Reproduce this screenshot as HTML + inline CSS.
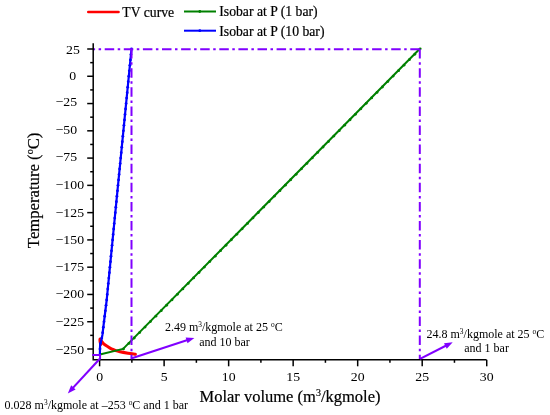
<!DOCTYPE html><html><head><meta charset="utf-8"><style>html,body{margin:0;padding:0;background:#fff;overflow:hidden}svg{display:block}text{font-family:"Liberation Serif","Times New Roman",serif;fill:#000}.b{stroke:#000;stroke-width:0.2px}</style></head><body>
<svg width="550" height="415" viewBox="0 0 550 415">
<path d="M100.7 344.5 C100.58 343.92 100.10 341.93 100.0 341 C99.90 340.07 99.88 338.92 100.1 338.9 C100.32 338.88 100.70 340.07 101.3 340.9 C101.90 341.73 102.65 342.95 103.7 343.9 C104.75 344.85 106.32 345.77 107.6 346.6 C108.88 347.43 110.00 348.23 111.4 348.9 C112.80 349.57 114.57 350.12 116 350.6 C117.43 351.08 118.00 351.37 120 351.8 C122.00 352.23 125.43 352.80 128 353.2 C130.57 353.60 134.17 354.03 135.4 354.2" stroke="#ff0000" stroke-width="3" fill="none" stroke-linecap="round" stroke-linejoin="round"/>
<polyline points="100.9,354.2 123.1,348.9 419.8,48.8" stroke="#008000" stroke-width="2" fill="none" stroke-linejoin="round"/>
<g fill="#008000"><circle cx="123.50" cy="348.90" r="1.4"/><circle cx="128.89" cy="343.44" r="1.4"/><circle cx="134.29" cy="337.99" r="1.4"/><circle cx="139.68" cy="332.53" r="1.4"/><circle cx="145.08" cy="327.07" r="1.4"/><circle cx="150.47" cy="321.62" r="1.4"/><circle cx="155.87" cy="316.16" r="1.4"/><circle cx="161.26" cy="310.71" r="1.4"/><circle cx="166.66" cy="305.25" r="1.4"/><circle cx="172.05" cy="299.79" r="1.4"/><circle cx="177.45" cy="294.34" r="1.4"/><circle cx="182.84" cy="288.88" r="1.4"/><circle cx="188.23" cy="283.42" r="1.4"/><circle cx="193.63" cy="277.97" r="1.4"/><circle cx="199.02" cy="272.51" r="1.4"/><circle cx="204.42" cy="267.05" r="1.4"/><circle cx="209.81" cy="261.60" r="1.4"/><circle cx="215.21" cy="256.14" r="1.4"/><circle cx="220.60" cy="250.69" r="1.4"/><circle cx="226.00" cy="245.23" r="1.4"/><circle cx="231.39" cy="239.77" r="1.4"/><circle cx="236.79" cy="234.32" r="1.4"/><circle cx="242.18" cy="228.86" r="1.4"/><circle cx="247.57" cy="223.40" r="1.4"/><circle cx="252.97" cy="217.95" r="1.4"/><circle cx="258.36" cy="212.49" r="1.4"/><circle cx="263.76" cy="207.03" r="1.4"/><circle cx="269.15" cy="201.58" r="1.4"/><circle cx="274.55" cy="196.12" r="1.4"/><circle cx="279.94" cy="190.67" r="1.4"/><circle cx="285.34" cy="185.21" r="1.4"/><circle cx="290.73" cy="179.75" r="1.4"/><circle cx="296.13" cy="174.30" r="1.4"/><circle cx="301.52" cy="168.84" r="1.4"/><circle cx="306.91" cy="163.38" r="1.4"/><circle cx="312.31" cy="157.93" r="1.4"/><circle cx="317.70" cy="152.47" r="1.4"/><circle cx="323.10" cy="147.01" r="1.4"/><circle cx="328.49" cy="141.56" r="1.4"/><circle cx="333.89" cy="136.10" r="1.4"/><circle cx="339.28" cy="130.65" r="1.4"/><circle cx="344.68" cy="125.19" r="1.4"/><circle cx="350.07" cy="119.73" r="1.4"/><circle cx="355.47" cy="114.28" r="1.4"/><circle cx="360.86" cy="108.82" r="1.4"/><circle cx="366.25" cy="103.36" r="1.4"/><circle cx="371.65" cy="97.91" r="1.4"/><circle cx="377.04" cy="92.45" r="1.4"/><circle cx="382.44" cy="86.99" r="1.4"/><circle cx="387.83" cy="81.54" r="1.4"/><circle cx="393.23" cy="76.08" r="1.4"/><circle cx="398.62" cy="70.63" r="1.4"/><circle cx="404.02" cy="65.17" r="1.4"/><circle cx="409.41" cy="59.71" r="1.4"/><circle cx="414.81" cy="54.26" r="1.4"/><circle cx="420.20" cy="48.80" r="1.4"/></g>
<polyline points="131.5,49 111.6,250 106.7,300 103.6,325 102.4,335 101.4,340 100.1,345 99.95,350 99.9,354.5" stroke="#0000ff" stroke-width="2.2" fill="none" stroke-linejoin="round"/>
<g fill="#0000ff"><circle cx="131.50" cy="49.00" r="1.4"/><circle cx="130.96" cy="54.45" r="1.4"/><circle cx="130.42" cy="59.91" r="1.4"/><circle cx="129.88" cy="65.36" r="1.4"/><circle cx="129.34" cy="70.82" r="1.4"/><circle cx="128.80" cy="76.27" r="1.4"/><circle cx="128.26" cy="81.73" r="1.4"/><circle cx="127.72" cy="87.18" r="1.4"/><circle cx="127.18" cy="92.64" r="1.4"/><circle cx="126.64" cy="98.09" r="1.4"/><circle cx="126.10" cy="103.55" r="1.4"/><circle cx="125.56" cy="109.00" r="1.4"/><circle cx="125.02" cy="114.45" r="1.4"/><circle cx="124.48" cy="119.91" r="1.4"/><circle cx="123.94" cy="125.36" r="1.4"/><circle cx="123.40" cy="130.82" r="1.4"/><circle cx="122.86" cy="136.27" r="1.4"/><circle cx="122.32" cy="141.73" r="1.4"/><circle cx="121.78" cy="147.18" r="1.4"/><circle cx="121.24" cy="152.64" r="1.4"/><circle cx="120.70" cy="158.09" r="1.4"/><circle cx="120.16" cy="163.54" r="1.4"/><circle cx="119.62" cy="169.00" r="1.4"/><circle cx="119.08" cy="174.45" r="1.4"/><circle cx="118.54" cy="179.91" r="1.4"/><circle cx="118.00" cy="185.36" r="1.4"/><circle cx="117.46" cy="190.82" r="1.4"/><circle cx="116.92" cy="196.27" r="1.4"/><circle cx="116.38" cy="201.73" r="1.4"/><circle cx="115.84" cy="207.18" r="1.4"/><circle cx="115.30" cy="212.63" r="1.4"/><circle cx="114.76" cy="218.09" r="1.4"/><circle cx="114.22" cy="223.54" r="1.4"/><circle cx="113.68" cy="229.00" r="1.4"/><circle cx="113.14" cy="234.45" r="1.4"/><circle cx="112.60" cy="239.91" r="1.4"/><circle cx="112.06" cy="245.36" r="1.4"/><circle cx="111.52" cy="250.82" r="1.4"/><circle cx="110.99" cy="256.27" r="1.4"/><circle cx="110.45" cy="261.73" r="1.4"/><circle cx="109.92" cy="267.18" r="1.4"/><circle cx="109.38" cy="272.63" r="1.4"/><circle cx="108.85" cy="278.09" r="1.4"/><circle cx="108.31" cy="283.54" r="1.4"/><circle cx="107.78" cy="289.00" r="1.4"/><circle cx="107.24" cy="294.45" r="1.4"/><circle cx="106.71" cy="299.91" r="1.4"/><circle cx="106.04" cy="305.36" r="1.4"/><circle cx="105.36" cy="310.82" r="1.4"/><circle cx="104.68" cy="316.27" r="1.4"/><circle cx="104.01" cy="321.73" r="1.4"/><circle cx="103.34" cy="327.18" r="1.4"/><circle cx="102.68" cy="332.63" r="1.4"/><circle cx="101.78" cy="338.09" r="1.4"/><circle cx="100.48" cy="343.54" r="1.4"/><circle cx="99.98" cy="349.00" r="1.4"/></g>
<g stroke="#8000ff" stroke-width="2" fill="none" stroke-dasharray="9.5 3.6 2.5 3.5">
<line x1="419.8" y1="49.3" x2="93.2" y2="49.3"/>
<line x1="419.8" y1="49.1" x2="419.8" y2="359.8"/>
<line x1="131.5" y1="49.1" x2="131.5" y2="359.8"/>
</g>
<g stroke="#000" stroke-width="1.5" fill="none">
<path d="M93.2 43.2 V359.8 H486.6"/>
<line x1="87.2" y1="49.00" x2="93.2" y2="49.00"/>
<line x1="87.2" y1="76.27" x2="93.2" y2="76.27"/>
<line x1="87.2" y1="103.55" x2="93.2" y2="103.55"/>
<line x1="87.2" y1="130.82" x2="93.2" y2="130.82"/>
<line x1="87.2" y1="158.09" x2="93.2" y2="158.09"/>
<line x1="87.2" y1="185.36" x2="93.2" y2="185.36"/>
<line x1="87.2" y1="212.63" x2="93.2" y2="212.63"/>
<line x1="87.2" y1="239.91" x2="93.2" y2="239.91"/>
<line x1="87.2" y1="267.18" x2="93.2" y2="267.18"/>
<line x1="87.2" y1="294.45" x2="93.2" y2="294.45"/>
<line x1="87.2" y1="321.73" x2="93.2" y2="321.73"/>
<line x1="87.2" y1="349.00" x2="93.2" y2="349.00"/>
<line x1="90.2" y1="62.64" x2="93.2" y2="62.64"/>
<line x1="90.2" y1="89.91" x2="93.2" y2="89.91"/>
<line x1="90.2" y1="117.18" x2="93.2" y2="117.18"/>
<line x1="90.2" y1="144.45" x2="93.2" y2="144.45"/>
<line x1="90.2" y1="171.73" x2="93.2" y2="171.73"/>
<line x1="90.2" y1="199.00" x2="93.2" y2="199.00"/>
<line x1="90.2" y1="226.27" x2="93.2" y2="226.27"/>
<line x1="90.2" y1="253.54" x2="93.2" y2="253.54"/>
<line x1="90.2" y1="280.82" x2="93.2" y2="280.82"/>
<line x1="90.2" y1="308.09" x2="93.2" y2="308.09"/>
<line x1="90.2" y1="335.36" x2="93.2" y2="335.36"/>
<line x1="99.60" y1="359.8" x2="99.60" y2="366.3"/>
<line x1="164.12" y1="359.8" x2="164.12" y2="366.3"/>
<line x1="228.64" y1="359.8" x2="228.64" y2="366.3"/>
<line x1="293.16" y1="359.8" x2="293.16" y2="366.3"/>
<line x1="357.68" y1="359.8" x2="357.68" y2="366.3"/>
<line x1="422.20" y1="359.8" x2="422.20" y2="366.3"/>
<line x1="486.72" y1="359.8" x2="486.72" y2="366.3"/>
<line x1="131.86" y1="359.8" x2="131.86" y2="362.8"/>
<line x1="196.38" y1="359.8" x2="196.38" y2="362.8"/>
<line x1="260.90" y1="359.8" x2="260.90" y2="362.8"/>
<line x1="325.42" y1="359.8" x2="325.42" y2="362.8"/>
<line x1="389.94" y1="359.8" x2="389.94" y2="362.8"/>
<line x1="454.46" y1="359.8" x2="454.46" y2="362.8"/>
</g>
<path d="M92.3 355 H100.05 V359" stroke="#8000ff" stroke-width="2" fill="none"/>
<line x1="100.05" y1="358.5" x2="72.69" y2="388.11" stroke="#8000ff" stroke-width="2.1"/>
<polygon points="67.8,393.4 71.16,385.34 75.57,389.41" fill="#8000ff"/>
<line x1="131.1" y1="358.4" x2="187.55" y2="340.12" stroke="#8000ff" stroke-width="2.1"/>
<polygon points="194.4,337.9 187.52,343.28 185.67,337.57" fill="#8000ff"/>
<line x1="420" y1="358.9" x2="446.28" y2="345.56" stroke="#8000ff" stroke-width="2.1"/>
<polygon points="452.7,342.3 446.75,348.69 444.03,343.34" fill="#8000ff"/>
<g font-size="13.8">
<text transform="translate(66,54.10) scale(1,0.95)">25</text>
<text transform="translate(69.3,79.57) scale(1,0.95)">0</text>
<text transform="translate(55.6,105.84) scale(1,0.95)">−25</text>
<text transform="translate(55.6,133.82) scale(1,0.95)">−50</text>
<text transform="translate(55.6,161.19) scale(1,0.95)">−75</text>
<text transform="translate(55.6,188.66) scale(1,0.95)">−100</text>
<text transform="translate(55.6,216.53) scale(1,0.95)">−125</text>
<text transform="translate(55.6,244.11) scale(1,0.95)">−150</text>
<text transform="translate(55.6,271.38) scale(1,0.95)">−175</text>
<text transform="translate(55.6,298.35) scale(1,0.95)">−200</text>
<text transform="translate(55.6,326.12) scale(1,0.95)">−225</text>
<text transform="translate(55.6,353.70) scale(1,0.95)">−250</text>
<text transform="translate(99.60,380.9) scale(1,0.95)" text-anchor="middle">0</text>
<text transform="translate(164.12,380.9) scale(1,0.95)" text-anchor="middle">5</text>
<text transform="translate(228.64,380.9) scale(1,0.95)" text-anchor="middle">10</text>
<text transform="translate(293.16,380.9) scale(1,0.95)" text-anchor="middle">15</text>
<text transform="translate(357.68,380.9) scale(1,0.95)" text-anchor="middle">20</text>
<text transform="translate(422.20,380.9) scale(1,0.95)" text-anchor="middle">25</text>
<text transform="translate(486.72,380.9) scale(1,0.95)" text-anchor="middle">30</text>
</g>
<text class="b" font-size="16.5" x="290" y="401.7" text-anchor="middle">Molar volume (m<tspan font-size="10" dy="-6">3</tspan><tspan dy="6">/kgmole)</tspan></text>
<text class="b" font-size="16.7" transform="translate(39.3,190.4) rotate(-90)" text-anchor="middle">Temperature (<tspan font-size="10" dy="-6">o</tspan><tspan dy="6">C)</tspan></text>
<line x1="88.3" y1="12" x2="118.5" y2="12" stroke="#ff0000" stroke-width="2.6" stroke-linecap="round"/>
<text class="b" font-size="13.7" x="122.3" y="17.3">TV curve</text>
<line x1="184" y1="11.5" x2="216" y2="11.5" stroke="#008000" stroke-width="2"/><circle cx="199.8" cy="11.5" r="1.4" fill="#008000"/>
<text class="b" font-size="13.7" x="219.3" y="16">Isobar at P (1 bar)</text>
<line x1="184" y1="30.7" x2="216" y2="30.7" stroke="#0000ff" stroke-width="2"/><circle cx="199.8" cy="30.7" r="1.4" fill="#0000ff"/>
<text class="b" font-size="13.7" x="219.3" y="35.8">Isobar at P (10 bar)</text>
<g font-size="12">
<text x="4.6" y="409.1">0.028 m<tspan font-size="7.4" dy="-4.2">3</tspan><tspan dy="4.2">/kgmole at –253 </tspan><tspan font-size="7.4" dy="-4.2">o</tspan><tspan dy="4.2">C and 1 bar</tspan></text>
<text x="223.8" y="331.1" text-anchor="middle">2.49 m<tspan font-size="7.4" dy="-4.2">3</tspan><tspan dy="4.2">/kgmole at 25 </tspan><tspan font-size="7.4" dy="-4.2">o</tspan><tspan dy="4.2">C</tspan></text>
<text x="224.5" y="346" text-anchor="middle">and 10 bar</text>
<text x="485.4" y="338.4" text-anchor="middle">24.8 m<tspan font-size="7.4" dy="-4.2">3</tspan><tspan dy="4.2">/kgmole at 25 </tspan><tspan font-size="7.4" dy="-4.2">o</tspan><tspan dy="4.2">C</tspan></text>
<text x="486.6" y="351.9" text-anchor="middle">and 1 bar</text>
</g>
</svg></body></html>
